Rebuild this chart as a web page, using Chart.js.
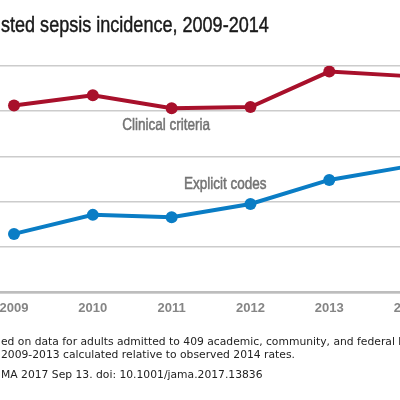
<!DOCTYPE html>
<html>
<head>
<meta charset="utf-8">
<script src="https://cdn.jsdelivr.net/npm/chart.js@4"></script>
<style>
  html, body { margin:0; padding:0; width:400px; height:400px; overflow:hidden; background:#fff; }
  #wrap { position:absolute; left:-100px; top:0; width:600px; height:400px; }
  .title { position:absolute; left:1px; top:12px; font-family:"Liberation Sans",Arial,sans-serif; font-size:22px; color:#1a1a1a; white-space:nowrap; line-height:26px; transform:scaleX(0.82); transform-origin:0 0; -webkit-text-stroke:0.45px #1a1a1a; }
  .note { position:absolute; left:1px; font-family:"DejaVu Sans",Verdana,sans-serif; font-size:10.75px; color:#222; white-space:nowrap; line-height:13px; }
</style>
</head>
<body>
<div id="wrap"><canvas id="c" width="600" height="400"></canvas></div>
<div class="title">sted sepsis incidence, 2009-2014</div>
<div class="note" style="top:335px">ed on data for adults admitted to 409 academic, community, and federal hospitals.<br>2009-2013 calculated relative to observed 2014 rates.</div>
<div class="note" style="top:368px">MA 2017 Sep 13. doi: 10.1001/jama.2017.13836</div>
<script>
const years = ['2009','2010','2011','2012','2013','2014'];
const clinicalCriteria = [4.12, 4.35, 4.06, 4.09, 4.87, 4.77];
const explicitCodes = [1.29, 1.71, 1.66, 1.95, 2.48, 2.78];
const yTicks = [0, 1, 2, 3, 4, 5];
const seriesNames = ['Clinical criteria', 'Explicit codes'];

const RED = '#a8102b';
const BLUE = '#0a7dc5';

// in-chart series labels, anchored in data units
const seriesLabels = [
  { text: seriesNames[0], x: 1.93, y: 3.68 },
  { text: seriesNames[1], x: 2.68, y: 2.38 }
];

const labelPlugin = {
  id: 'seriesLabels',
  afterDatasetsDraw(chart) {
    const { ctx, scales } = chart;
    seriesLabels.forEach(l => {
      ctx.save();
      ctx.translate(scales.x.getPixelForValue(l.x), scales.y.getPixelForValue(l.y));
      ctx.scale(0.82, 1);
      ctx.font = '16.5px "Liberation Sans", Arial, sans-serif';
      ctx.fillStyle = '#737373';
      ctx.strokeStyle = '#737373';
      ctx.lineWidth = 0.5;
      ctx.textAlign = 'center';
      ctx.textBaseline = 'middle';
      ctx.fillText(l.text, 0, 0);
      ctx.strokeText(l.text, 0, 0);
      ctx.restore();
    });
  }
};

new Chart(document.getElementById('c'), {
  type: 'line',
  data: {
    labels: years,
    datasets: [
      { label: seriesNames[0], data: clinicalCriteria, borderColor: RED, backgroundColor: RED,
        borderWidth: 4, pointRadius: 6, pointHoverRadius: 6, pointBorderWidth: 0, tension: 0 },
      { label: seriesNames[1], data: explicitCodes, borderColor: BLUE, backgroundColor: BLUE,
        borderWidth: 4, pointRadius: 6, pointHoverRadius: 6, pointBorderWidth: 0, tension: 0 }
    ]
  },
  options: {
    responsive: false,
    animation: false,
    devicePixelRatio: 1,
    layout: { padding: { left: 74.6, right: 52.5, top: 65.7, bottom: 77.6 } },
    plugins: { legend: { display: false }, tooltip: { enabled: false }, title: { display: false } },
    scales: {
      x: {
        type: 'category',
        offset: true,
        grid: { display: false, drawTicks: false },
        border: { display: true, color: '#bdbdbd', width: 2.5 },
        ticks: { color: '#858585', padding: 8, font: { family: '"Liberation Sans", Arial, sans-serif', size: 13, weight: 'bold' } },
        afterFit(s) { s.height = 30; }
      },
      y: {
        min: 0, max: 5,
        afterBuildTicks(s) { s.ticks = yTicks.map(v => ({ value: v })); },
        ticks: { display: false },
        grid: { color: '#cccccc', lineWidth: 1.5, drawTicks: false },
        border: { display: false },
        afterFit(s) { s.width = 0; }
      }
    }
  },
  plugins: [labelPlugin]
});
</script>
</body>
</html>
